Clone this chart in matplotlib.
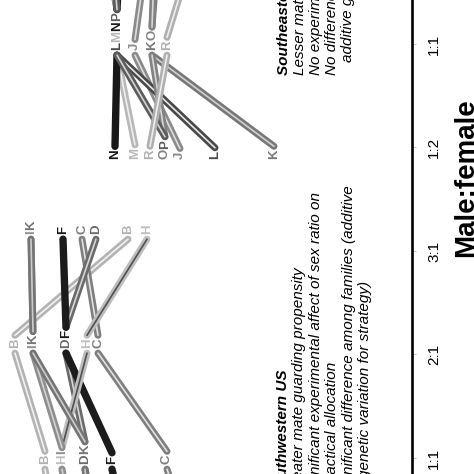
import matplotlib.pyplot as plt

plt.rcParams['font.family'] = 'Liberation Sans'

# male:female ratios along the (rotated) x axis
ratios = ['1:2', '1:1', '2:1', '3:1']

# Southwestern US families, values at 1:2, 1:1, 2:1, 3:1 (1:2 is cut off)
sw_fam = ['B', 'C', 'D', 'F', 'H', 'I', 'K']
sw_B = [35.2, 36.7, 39.7, 28.4]
sw_C = [21.2, 24.5, 31.4, 33.0]
sw_D = [30.7, 32.7, 34.6, 31.6]
sw_F = [27.7, 30.0, 34.6, 34.9]
sw_H = [33.7, 35.0, 32.5, 26.5]
sw_I = [33.2, 35.0, 37.9, 38.1]
sw_K = [31.7, 32.7, 37.9, 38.1]
sw_vals = [sw_B, sw_C, sw_D, sw_F, sw_H, sw_I, sw_K]

# Southeastern US families, values at 1:2, 1:1, 2:1 (2:1 is cut off)
se_fam = ['J', 'K', 'L', 'M', 'N', 'O', 'P', 'R']
se_J = [23.2, 27.7, 26.4]
se_K = [13.8, 26.0, 25.4]
se_L = [19.7, 29.5, 30.7]
se_M = [27.7, 29.5, 30.4]
se_N = [29.7, 29.5, 29.2]
se_O = [24.7, 26.0, 25.7]
se_P = [24.7, 29.5, 30.0]
se_R = [26.2, 24.5, 21.7]
se_vals = [se_J, se_K, se_L, se_M, se_N, se_O, se_P, se_R]

# styles: outer colour, inner stripe colour
sw_col = {'B': ('#b3b3b3', '#f2f2f2'), 'C': ('#7f7f7f', '#e2e2e2'),
          'D': ('#6a6a6a', '#d6d6d6'), 'F': ('#1c1c1c', None),
          'H': ('#bebebe', '#505050'), 'I': ('#8e8e8e', '#d2d2d2'),
          'K': ('#747474', '#cccccc')}
se_col = {'J': ('#8a8a8a', '#dddddd'), 'K': ('#777777', '#d0d0d0'),
          'L': ('#484848', '#e6e6e6'), 'M': ('#b8b8b8', '#efefef'),
          'N': ('#181818', None), 'O': ('#828282', '#d8d8d8'),
          'P': ('#5c5c5c', '#d4d4d4'), 'R': ('#b0b0b0', '#eeeeee')}

# where each group's columns sit along the ratio axis
sw_cols = [-1.17, -0.058, 1.063, 2.164]
se_cols = [2.889, 3.942, 5.0]

# bold letter widths (em) so stacked labels sit tight
em_w = {'B': .722, 'C': .722, 'D': .722, 'F': .611, 'H': .722, 'I': .278,
        'J': .556, 'K': .722, 'L': .611, 'M': .833, 'N': .722, 'O': .778,
        'P': .667, 'R': .722}
lab_size = 9.5
em_t = lab_size * 100 / 72 / 103.5   # one em in ratio-axis units

fig = plt.figure(figsize=(4.74, 4.74), dpi=100)
ax = fig.add_axes([0, 0, 1, 1])


def draw_group(fams, vals, styles, cols):
    # letters sharing a value are stacked into one label
    groups = []
    for c in range(len(cols)):
        g = {}
        for f, v in zip(fams, vals):
            g.setdefault(v[c], []).append(f)
        groups.append(g)
    for f, v in zip(fams, vals):
        outer, inner = styles[f]
        lw = 5.3 if inner is None else 5.0
        for c in range(len(cols) - 1):
            length = sum(em_w[m] for m in groups[c][v[c]]) * em_t
            lo = cols[c] + length + 0.03
            hi = cols[c + 1] - 0.05
            ax.plot([v[c], v[c + 1]], [lo, hi], color=outer, lw=lw,
                    solid_capstyle='round')
            if inner:
                ax.plot([v[c], v[c + 1]], [lo, hi], color=inner, lw=1.2,
                        solid_capstyle='round')
    for c in range(len(cols)):
        for val, members in groups[c].items():
            pos = cols[c]
            for f in members:
                w = em_w[f] * em_t
                ax.text(val, pos + w / 2, f, color=styles[f][0],
                        rotation=90, ha='center', va='center',
                        fontsize=lab_size, fontweight='bold')
                pos += w


draw_group(sw_fam, sw_vals, sw_col, sw_cols)
draw_group(se_fam, se_vals, se_col, se_cols)

# the ratio axis, drawn on the right because the figure is turned
for s in ['left', 'top', 'bottom']:
    ax.spines[s].set_visible(False)
ax.spines['right'].set_position(('data', 0))
ax.spines['right'].set_linewidth(1.9)
ax.set_xticks([])
ax.yaxis.set_ticks_position('right')
ax.set_yticks(range(-1, 7), ratios + ratios)
ax.tick_params(axis='y', direction='out', length=3, width=0.8,
               color='#c8c8c8', pad=8, labelsize=11, labelrotation=90)
for lab in ax.get_yticklabels():
    lab.set_va('center')
ax.set_xlim(41.2, -6.2)
ax.set_ylim(-0.155, 4.425)

ax.text(466 / 474, 1 - 178 / 474, 'Male:female', transform=ax.transAxes,
        rotation=90, ha='center', va='center', fontsize=20, fontweight='bold')


def note(x, y, s, **kw):
    ax.text(x / 474, 1 - y / 474, s, transform=ax.transAxes, rotation=90,
            rotation_mode='anchor', ha='left', va='baseline', fontsize=11,
            style='italic', **kw)


note(287, 496, 'Southwestern US', fontweight='bold')
note(303.5, 496, 'Greater mate guarding propensity')
note(320, 496, 'Significant experimental affect of sex ratio on')
note(336.5, 478, 'tactical allocation')
note(353, 496, 'Significant difference among families (additive')
note(369.5, 478, 'genetic variation for strategy)')

note(288, 75, 'Southeastern US', fontweight='bold')
note(304, 75, 'Lesser mate guarding propensity')
note(320, 75, 'No experimental affect of sex ratio on tactical allocation')
note(336, 75, 'No difference among families (no')
note(352, 62, 'additive genetic variation for strategy)')

fig.savefig('out.png', dpi=100)
